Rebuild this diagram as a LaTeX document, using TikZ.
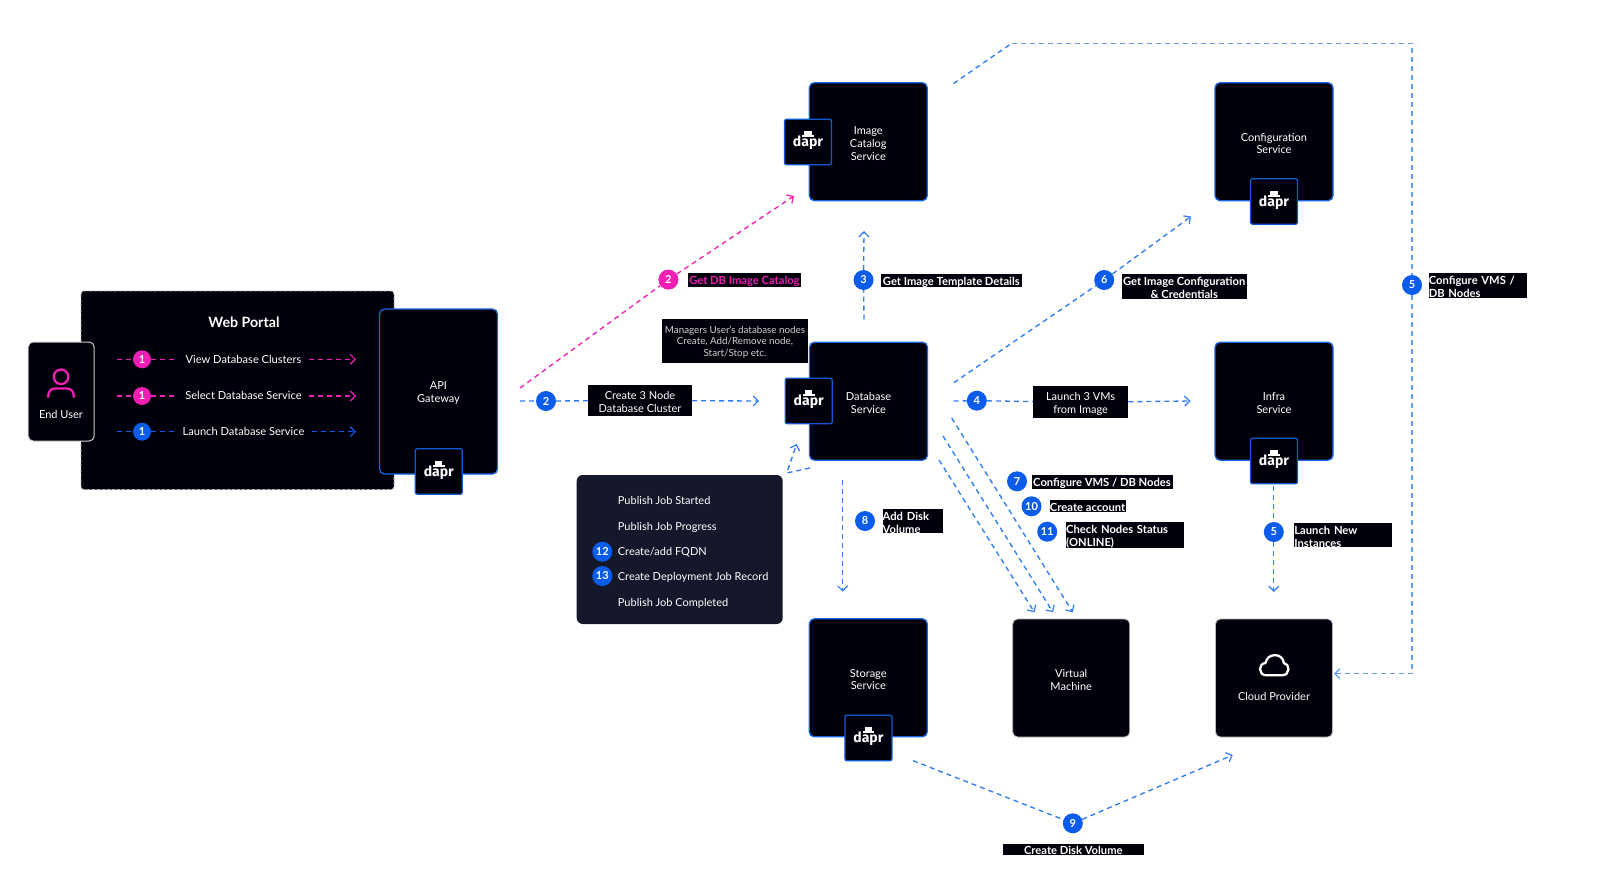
\documentclass[tikz,border=0pt]{standalone}
\usepackage{fontspec}
\setmainfont{Lato}
\newfontfamily\daprfont{Fira Sans}
\usetikzlibrary{arrows.meta,backgrounds}
\definecolor{ink}{HTML}{00000C}
\definecolor{edge}{HTML}{1766E6}
\definecolor{flow}{HTML}{2F7CF6}
\definecolor{hot}{HTML}{F01FB4}
\definecolor{chip}{HTML}{0B5CEA}
\definecolor{panel}{HTML}{15182B}
\definecolor{dapredge}{HTML}{0F5AD0}
\newcommand{\sv}{\rule{0pt}{11.5pt}}
\tikzset{
  svc/.style={draw=edge,line width=1.3pt,fill=ink,rounded corners=5pt,minimum width=118pt,minimum height=118pt,inner sep=0pt,text=white,align=center,font=\fontsize{11}{12.7}\selectfont},
  plain/.style={svc,draw=gray!55,line width=.8pt},
  daprbox/.style={draw=dapredge,line width=1.3pt,fill=ink,rounded corners=2pt,minimum width=47pt,minimum height=45.5pt,inner sep=0pt,text=white,font=\daprfont\bfseries\fontsize{14}{16}\selectfont},
  badge/.style={circle,fill=chip,text=white,minimum size=20pt,inner sep=0pt,font=\bfseries\fontsize{11}{11}\selectfont},
  hotbadge/.style={badge,fill=hot},
  lab/.style={fill=ink,text=white,inner sep=0pt,font=\bfseries\fontsize{11.2}{12.7}\selectfont},
  rowtext/.style={text=white,inner xsep=7.5pt,inner ysep=0pt,font=\fontsize{11.1}{12}\selectfont},
  jobtext/.style={text=white,anchor=west,inner sep=0pt,font=\fontsize{11}{12}\selectfont},
  link/.style={draw=flow,line width=1.35pt,dash pattern=on 5pt off 4pt},
  hotlink/.style={link,draw=hot,line width=1.6pt},
  tipped/.style={-{Straight Barb[length=5pt,width=10pt,line width=1.2pt]}},
}
\newcommand{\daprnode}[3]{%
  \node[daprbox] (#1) at (#2,#3) {\raisebox{-4.7pt}[0pt][0pt]{dapr}};
  \fill[white] ([xshift=-5.9pt,yshift=7pt]#1.center) rectangle ([xshift=5.9pt,yshift=4.7pt]#1.center);
  \fill[white] ([xshift=-3.6pt,yshift=11pt]#1.center) rectangle ([xshift=3.6pt,yshift=7pt]#1.center);
}
\begin{document}
\begin{tikzpicture}[x=1pt,y=-1pt]
\useasboundingbox (0,0) rectangle (1600,891);
\begin{pgfonlayer}{background}
  \fill[white] (0,0) rectangle (1600,891);
  \draw[fill=ink,draw=gray!60,line width=.8pt,dash pattern=on 3pt off 2pt,rounded corners=3pt] (81,291) rectangle (394,489.5);
\end{pgfonlayer}

% free ends
\coordinate (r1a) at (116.5,359.3); \coordinate (r1z) at (356,359.3);
\coordinate (r2a) at (116.5,396); \coordinate (r2z) at (356,396);
\coordinate (r3a) at (116.5,431.7); \coordinate (r3z) at (356,431.7);
\coordinate (gwp) at (520,388);     \coordinate (gwb) at (520,401);
\coordinate (imgin) at (794,196);   \coordinate (dbin) at (759,401);
\coordinate (img3) at (864,231);    \coordinate (db3) at (864,319.5);
\coordinate (db4) at (953.5,401);   \coordinate (infin) at (1190.5,401);
\coordinate (db6) at (953.8,382.7); \coordinate (cfgin) at (1191,216.5);
\coordinate (imgout) at (953.5,83.5); \coordinate (topl) at (1011.7,43.3);
\coordinate (topr) at (1412,43.3);  \coordinate (botr) at (1412,673.7);
\coordinate (cldin) at (1334,673.7);
\coordinate (jobs1) at (810,468);   \coordinate (jobs2) at (786.7,473); \coordinate (jobs3) at (796.7,444);
\coordinate (db8) at (842.7,480);   \coordinate (sto8) at (842.7,591.7);
\coordinate (d1) at (951.7,418);    \coordinate (v1) at (1072.8,612.3);
\coordinate (d2) at (943,436);      \coordinate (v2) at (1053,612.3);
\coordinate (d3) at (939,460);      \coordinate (v3) at (1034.5,612.3);
\coordinate (inf5) at (1273.8,486); \coordinate (cld5) at (1273.8,592);
\coordinate (sto9) at (913,760.7);  \coordinate (cld9) at (1232.7,755);

% end user
\node[draw=gray!40,line width=1pt,fill=ink,rounded corners=5pt,minimum width=66pt,minimum height=99pt] (user) at (61.2,391.5) {};
\draw[hot,line width=2.3pt] (61,376.8) circle (7.3pt);
\draw[hot,line width=2.3pt,line cap=round] (48.2,397) .. controls (48.2,391) and (51,388.5) .. (55,388.5) -- (67,388.5) .. controls (71,388.5) and (73.8,391) .. (73.8,397);
\node[text=white,inner sep=0pt,font=\fontsize{11}{12}\selectfont] (usert) at (61,414.3) {End User};

% web portal
\node[text=white,inner sep=0pt,font=\bfseries\fontsize{14.2}{15}\selectfont] (wpt) at (244,322.3) {Web Portal};
\node[hotbadge,minimum size=18pt] (b1a) at (142,359.3) {1};
\node[hotbadge,minimum size=18pt] (b1b) at (142,396) {1};
\node[badge,minimum size=18pt] (b1c) at (142,431.7) {1};
\node[rowtext] (t1a) at (243.5,359.5) {View Database Clusters};
\node[rowtext] (t1b) at (243.5,395.5) {Select Database Service};
\node[rowtext] (t1c) at (243.5,431.5) {Launch Database Service};

% gateway
\node[svc,minimum height=165pt] (api) at (438.5,391.5) {\sv API\\Gateway};
\daprnode{dapi}{438.8}{471.5}

% services
\node[svc] (img) at (868.3,141.7) {\sv Image\\Catalog\\Service};
\daprnode{dimg}{808}{142}
\node[svc] (cfg) at (1274,141.7) {\sv Configuration\\Service};
\daprnode{dcfg}{1274}{201.5}
\node[svc] (db) at (868.5,401.2) {\sv Database\\Service};
\daprnode{ddb}{808.7}{401}
\node[svc] (inf) at (1274,401.2) {\sv Infra\\Service};
\daprnode{dinf}{1274}{461}
\node[svc] (sto) at (868.3,677.8) {\sv Storage\\Service};
\daprnode{dsto}{868.4}{738}
\node[plain,minimum width=117pt] (vm) at (1071.2,678) {\sv Virtual\\Machine};
\node[plain,minimum width=117pt] (cld) at (1274,678) {};
\draw[white,line width=2.3pt,line join=round] (1266.5,675.3) -- (1282,675.3) .. controls (1290.5,675.3) and (1290,663.5) .. (1283.8,663) .. controls (1283,652.5) and (1267,652.5) .. (1265.5,663) .. controls (1258,663.5) and (1258,675.3) .. (1266.5,675.3) -- cycle;
\node[text=white,inner sep=0pt,font=\fontsize{11}{12}\selectfont] (cldt) at (1274,696.3) {Cloud Provider};

% job panel
\node[fill=panel,rounded corners=6pt,minimum width=206pt,minimum height=149pt,inner sep=0pt] (jobs) at (679.7,549.5) {};
\node[jobtext] (j1) at (617.7,500.2) {Publish Job Started};
\node[jobtext] (j2) at (617.7,527.3) {Publish Job Progress};
\node[jobtext] (j3) at (617.7,552) {Create/add FQDN};
\node[jobtext] (j4) at (617.7,577.8) {Create Deployment Job Record};
\node[jobtext] (j5) at (617.7,603.3) {Publish Job Completed};
\node[badge] (b12) at (602.3,551.7) {12};
\node[badge] (b13) at (602.3,576) {13};

% labels
\node[lab,font=\fontsize{9.8}{11.2}\selectfont,text=gray!35!white,align=center,minimum width=146pt,minimum height=44pt] (note) at (735,340.7) {\rule{0pt}{10pt}Managers User's database nodes\\Create, Add/Remove node,\\Start/Stop etc.};
\node[lab,align=center,minimum width=104pt,minimum height=31pt,font=\fontsize{11}{12.7}\selectfont] (l2b) at (640,400.5) {\sv Create 3 Node\\Database Cluster};
\node[lab,text=hot,minimum width=113pt,minimum height=11pt] (l2p) at (744.4,280) {\sv Get DB Image Catalog};
\node[lab,minimum width=141pt,minimum height=11pt] (l3) at (951.3,280.5) {\sv Get Image Template Details};
\node[lab,align=center,minimum width=125pt,minimum height=23.6pt] (l6) at (1184.2,286.5) {\sv Get Image Configuration\\\& Credentials};
\node[lab,align=left,text width=98pt,minimum height=24.4pt] (l5r) at (1477.8,285.5) {\sv Configure VMS /\\DB Nodes};
\node[lab,align=center,minimum width=95pt,minimum height=32pt,font=\fontsize{11}{12.7}\selectfont] (l4) at (1080.6,402.3) {\sv Launch 3 VMs\\from Image};
\node[lab,minimum width=141pt,minimum height=10.6pt] (l7) at (1102,482) {\sv Configure VMS / DB Nodes};
\node[lab,minimum width=76pt,minimum height=11pt] (l10) at (1087.6,505.8) {\sv Create account};
\node[lab,align=left,text width=118pt,minimum height=24pt] (l11) at (1125.2,535.3) {\sv Check Nodes Status\\(ONLINE)};
\node[lab,align=left,text width=97.6pt,minimum height=24.3pt] (l5) at (1343.2,535.2) {\sv Launch New\\Instances};
\node[lab,align=left,text width=60pt,minimum height=23.7pt] (l8) at (912.7,521.2) {\sv Add Disk\\Volume};
\node[lab,minimum width=141.3pt,minimum height=11pt] (l9) at (1073.3,849.2) {\raisebox{-5.5pt}[0pt][0pt]{Create Disk Volume}};

% badges on the links
\node[hotbadge] (b2p) at (668.4,279.6) {2};
\node[badge] (b2b) at (546,401) {2};
\node[badge] (b3) at (863.5,280) {3};
\node[badge] (b4) at (976.8,400.7) {4};
\node[badge] (b6) at (1104.2,280) {6};
\node[badge] (b5r) at (1412,285) {5};
\node[badge] (b5) at (1273.8,532) {5};
\node[badge] (b7) at (1017,481.3) {7};
\node[badge] (b10) at (1031.5,506.3) {10};
\node[badge] (b11) at (1047.2,531.7) {11};
\node[badge] (b8) at (865,521) {8};
\node[badge] (b9) at (1072.8,823.3) {9};

\begin{pgfonlayer}{background}
  \draw[hotlink] (r1a) -- (b1a) -- (t1a.west |- r1a);
  \draw[hotlink,tipped] (t1a.east |- r1z) -- (r1z);
  \draw[hotlink] (r2a) -- (b1b) -- (t1b.west |- r2a);
  \draw[hotlink,tipped] (t1b.east |- r2z) -- (r2z);
  \draw[link,draw=chip] (r3a) -- (b1c) -- (t1c.west |- r3a);
  \draw[link,draw=chip,tipped] (t1c.east |- r3z) -- (r3z);
  \draw[hotlink,line width=1.35pt,tipped] (gwp) -- (b2p) -- (imgin);
  \draw[link,tipped] (gwb) -- (b2b) -- (l2b) -- (dbin);
  \draw[link,tipped] (db3) -- (b3) -- (img3);
  \draw[link,tipped] (db4) -- (b4) -- (l4) -- (infin);
  \draw[link,tipped] (db6) -- (b6) -- (cfgin);
  \draw[link] (imgout) -- (topl);
  \draw[link,draw=flow!75,line width=1.15pt,tipped] (topl) -- (topr) -- (b5r) -- (botr) -- (cldin);
  \draw[link,tipped] (jobs1) -- (jobs2) -- (jobs3);
  \draw[link,tipped] (db8) -- (sto8);
  \draw[link,tipped] (d1) -- (v1);
  \draw[link,tipped] (d2) -- (v2);
  \draw[link,tipped] (d3) -- (v3);
  \draw[link,tipped] (inf5) -- (b5) -- (cld5);
  \draw[link] (sto9) -- (b9);
  \draw[link,tipped] (b9) -- (cld9);
\end{pgfonlayer}
\end{tikzpicture}
\end{document}
